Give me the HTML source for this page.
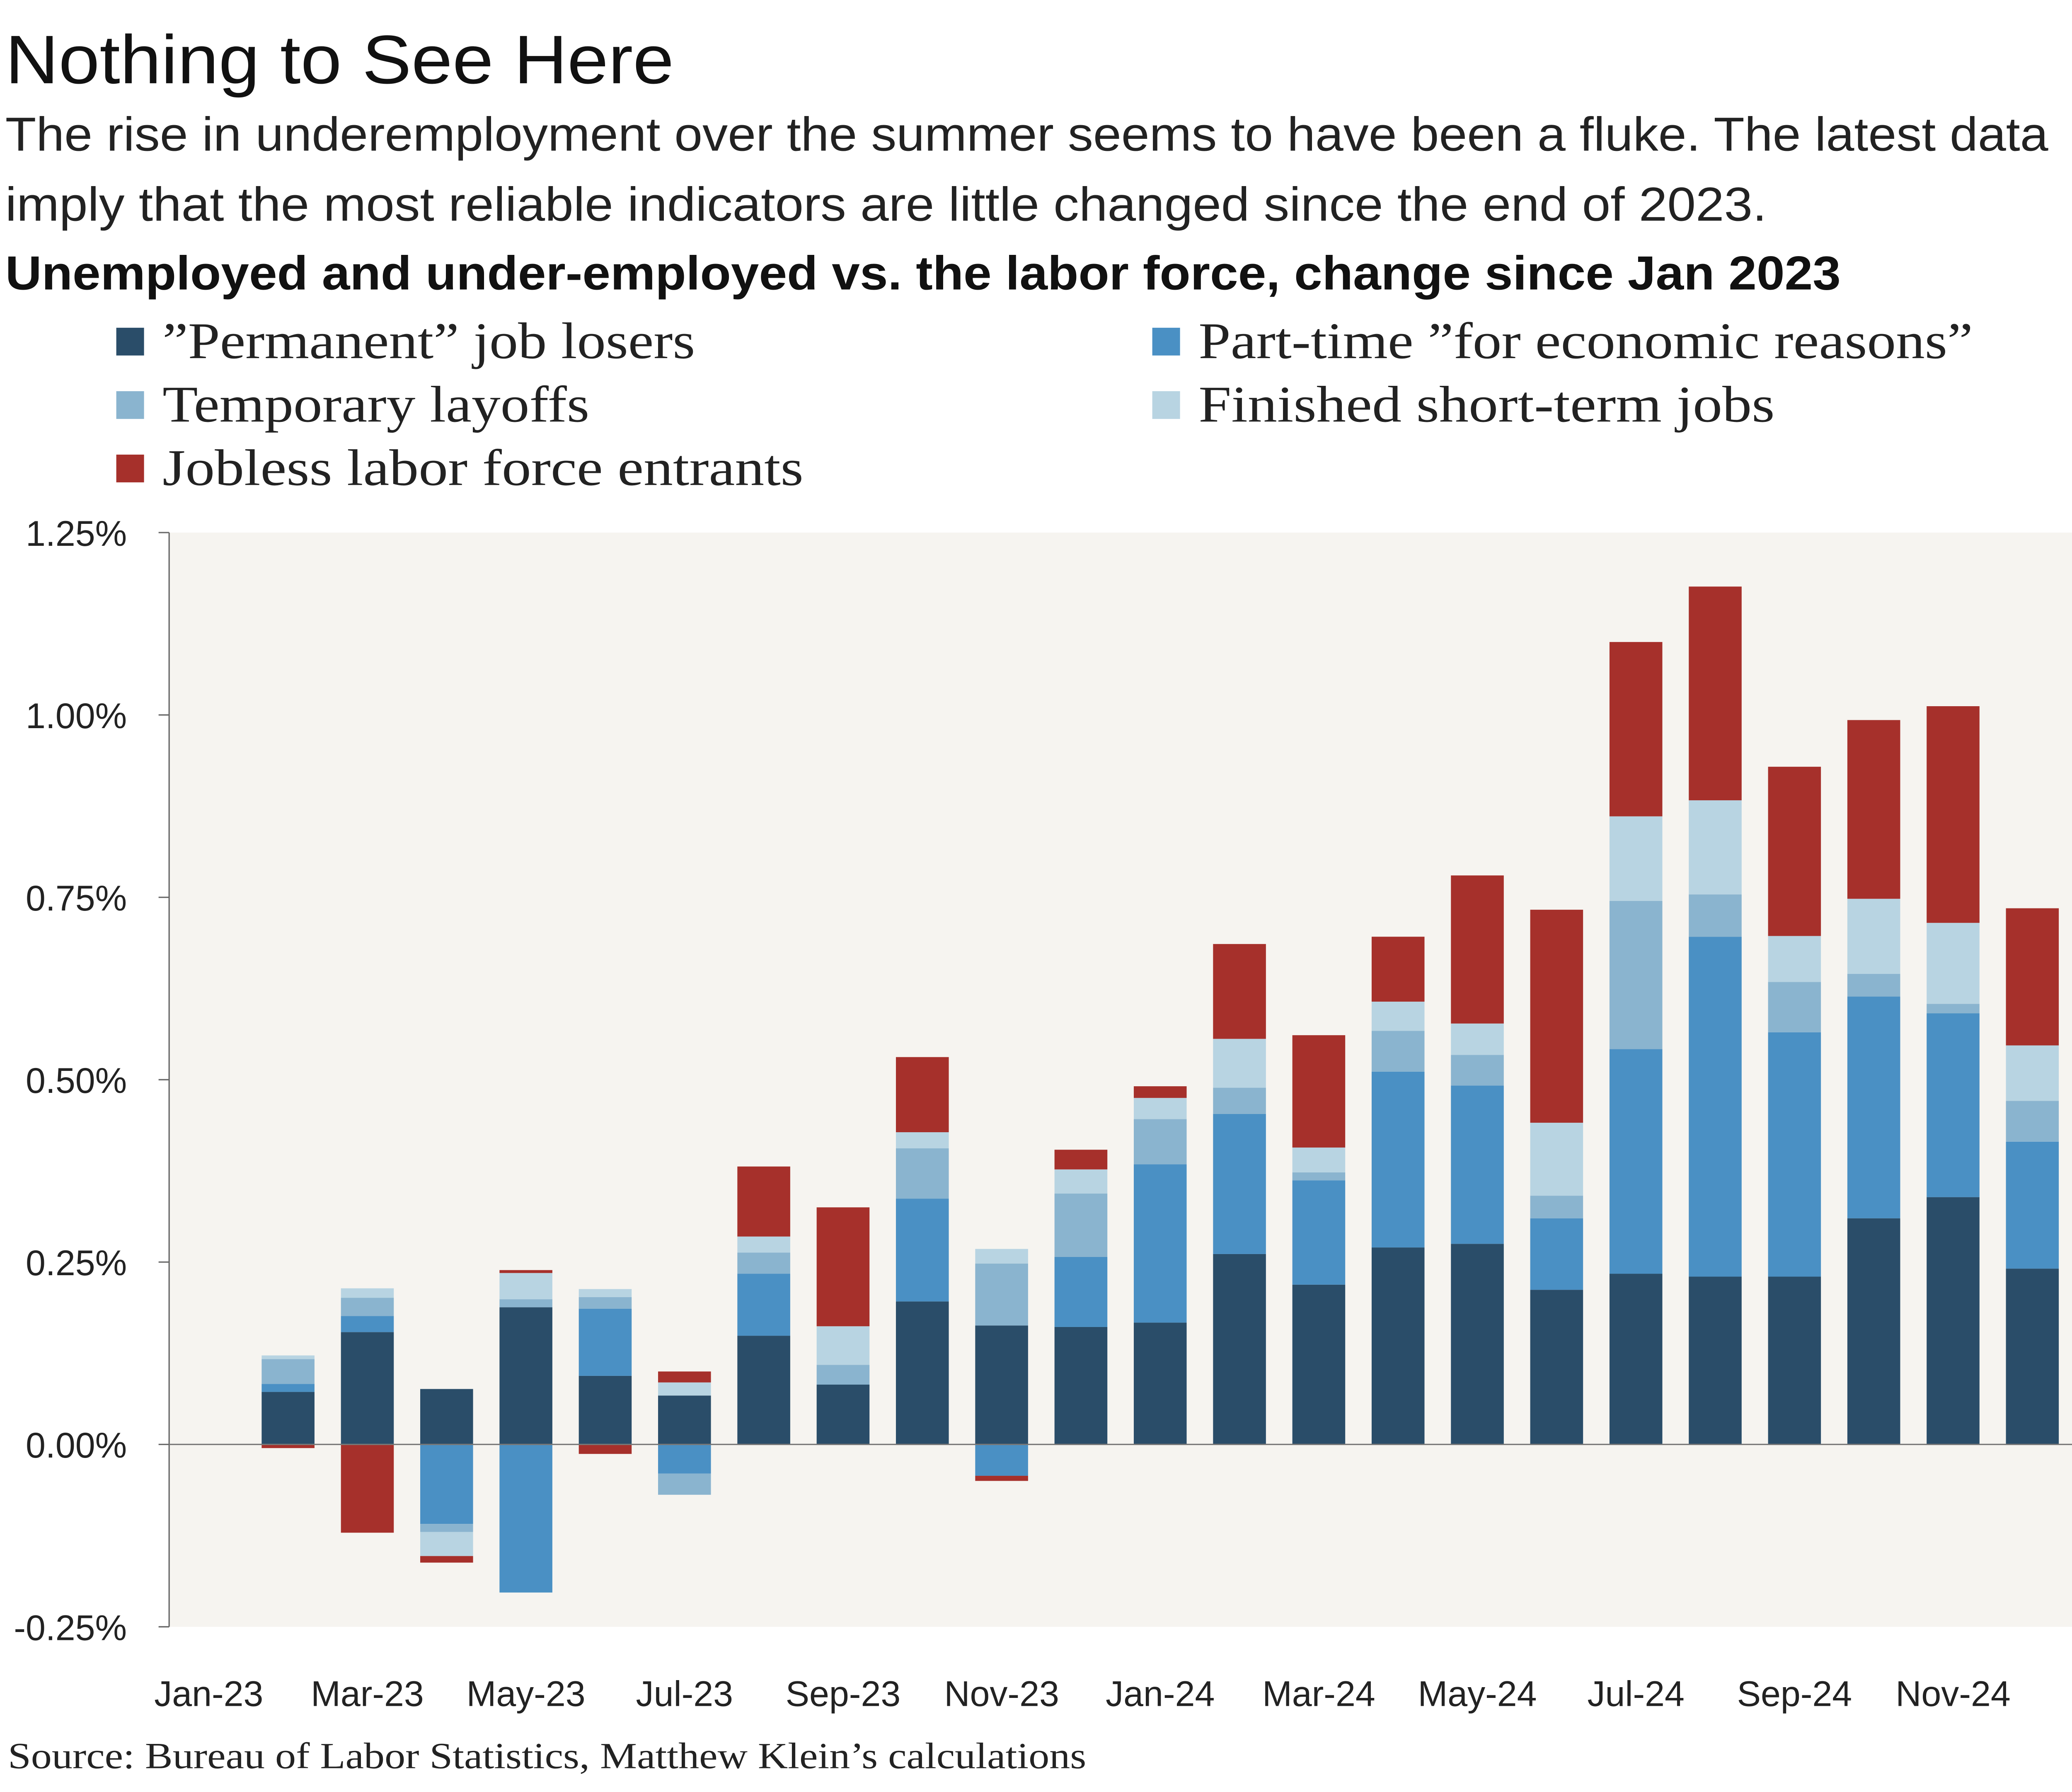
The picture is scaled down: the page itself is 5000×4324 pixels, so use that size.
<!DOCTYPE html>
<html><head><meta charset="utf-8"><style>
html,body{margin:0;padding:0;background:#fff}
svg{display:block}
.sans{font-family:"Liberation Sans",sans-serif}
.serif{font-family:"Liberation Serif",serif}
</style></head><body>
<svg id="chart" width="5000" height="4324" viewBox="0 0 1568 1356" xmlns="http://www.w3.org/2000/svg">
<rect width="1568" height="1356" fill="#fff"/>
<text class="sans" x="4" y="63" font-size="52" fill="#111" textLength="506" lengthAdjust="spacingAndGlyphs">Nothing to See Here</text>
<text class="sans" x="4" y="114" font-size="36" fill="#222" textLength="1546" lengthAdjust="spacingAndGlyphs">The rise in underemployment over the summer seems to have been a fluke. The latest data</text>
<text class="sans" x="4" y="167" font-size="36" fill="#222" textLength="1333" lengthAdjust="spacingAndGlyphs">imply that the most reliable indicators are little changed since the end of 2023.</text>
<text class="sans" x="4" y="219" font-size="36" font-weight="bold" fill="#111" textLength="1389" lengthAdjust="spacingAndGlyphs">Unemployed and under-employed vs. the labor force, change since Jan 2023</text>
<g id="legend"></g>
<rect x="128" y="403" width="1440" height="828" fill="#f6f4f0"/>
<g id="axes"></g>
<g id="bars"></g>
<text class="serif" x="6" y="1338" font-size="28" fill="#222" textLength="816" lengthAdjust="spacingAndGlyphs">Source: Bureau of Labor Statistics, Matthew Klein’s calculations</text>
</svg>
<script>
const months = ["Jan-23","Feb-23","Mar-23","Apr-23","May-23","Jun-23","Jul-23","Aug-23","Sep-23","Oct-23","Nov-23","Dec-23","Jan-24","Feb-24","Mar-24","Apr-24","May-24","Jun-24","Jul-24","Aug-24","Sep-24","Oct-24","Nov-24","Dec-24"];
const permanent = [0,0.072,0.154,0.076,0.188,0.094,0.067,0.149,0.082,0.196,0.163,0.161,0.167,0.261,0.219,0.270,0.275,0.212,0.234,0.230,0.230,0.310,0.339,0.241];
const partTime = [0,0.011,0.022,-0.109,-0.203,0.092,-0.040,0.085,0,0.141,-0.043,0.096,0.217,0.192,0.143,0.241,0.217,0.098,0.308,0.466,0.335,0.304,0.252,0.174];
const temporary = [0,0.034,0.025,-0.011,0.011,0.016,-0.029,0.029,0.027,0.069,0.085,0.087,0.062,0.036,0.011,0.056,0.042,0.031,0.203,0.058,0.069,0.031,0.013,0.056];
const finished = [0,0.005,0.013,-0.033,0.036,0.011,0.018,0.022,0.053,0.022,0.020,0.033,0.029,0.067,0.034,0.040,0.043,0.100,0.116,0.129,0.063,0.103,0.111,0.076];
const jobless = [0,-0.005,-0.121,-0.009,0.004,-0.013,0.015,0.096,0.163,0.103,-0.007,0.027,0.016,0.130,0.154,0.089,0.203,0.292,0.239,0.293,0.232,0.245,0.297,0.188];
const yTicks = [-0.25,0,0.25,0.5,0.75,1.0,1.25];
const yTickLabels = ["-0.25%","0.00%","0.25%","0.50%","0.75%","1.00%","1.25%"];
const seriesNames = ["\u201DPermanent\u201D job losers","Part-time \u201Dfor economic reasons\u201D","Temporary layoffs","Finished short-term jobs","Jobless labor force entrants"];

const NS="http://www.w3.org/2000/svg";
const colors=["#2a4d69","#4a90c4","#8ab4cf","#b8d4e2","#a6302b"];
const series=[permanent,partTime,temporary,finished,jobless];
const slugs=["permanent","part-time","temporary","finished","jobless"];
const legendWidths=[403,586,323,436,485];
const y=v=>1093-v*552;
const x=i=>158+i*60;
function mk(tag,attrs,parent){const e=document.createElementNS(NS,tag);for(const k in attrs)e.setAttribute(k,attrs[k]);parent.appendChild(e);return e;}

const lg=document.getElementById('legend');
const legPos=[[88,0],[872,0],[88,1],[872,1],[88,2]];
seriesNames.forEach((n,i)=>{
  const [lx,row]=legPos[i];const ly=271+row*48;
  const g=mk('g',{},lg);
  
  
  mk('rect',{x:lx,y:ly-23,width:21,height:21,fill:colors[i]},g);
  const t=mk('text',{x:lx+35,y:ly,'font-size':39,fill:'#222',class:'serif',textLength:legendWidths[i],lengthAdjust:'spacingAndGlyphs'},g);t.textContent=n;
});

const ax=document.getElementById('axes');
const yl=mk('line',{x1:128,y1:403,x2:128,y2:1231,stroke:'#666','stroke-width':1},ax);


yTicks.forEach((v,i)=>{
  mk('line',{x1:120,x2:128,y1:y(v),y2:y(v),stroke:'#666','stroke-width':1},ax);
  const t=mk('text',{x:96,y:y(v)+10,'font-size':27,'text-anchor':'end',fill:'#222',class:'sans'},ax);
  
  
  t.textContent=yTickLabels[i];
});
months.forEach((m,i)=>{
  if(i%2)return;
  const t=mk('text',{x:x(i),y:1291,'font-size':27,'text-anchor':'middle',fill:'#222',class:'sans'},ax);
  
  
  t.textContent=m;
});

const bg=document.getElementById('bars');
months.forEach((m,i)=>{
  let pos=0,neg=0;
  series.forEach((s,k)=>{
    const v=s[i];if(!v)return;
    let a,b;
    if(v>0){a=pos;b=pos+v;pos=b;}else{a=neg;b=neg+v;neg=b;}
    const top=Math.min(y(a),y(b)),h=Math.abs(y(a)-y(b));
    const r=mk('rect',{x:x(i)-20,y:top,width:40,height:h,fill:colors[k]},bg);
    
    
  });
});
const zl=mk('line',{x1:128,x2:1568,y1:y(0),y2:y(0),stroke:'#777','stroke-width':1},bg);


</script>
</body></html>
